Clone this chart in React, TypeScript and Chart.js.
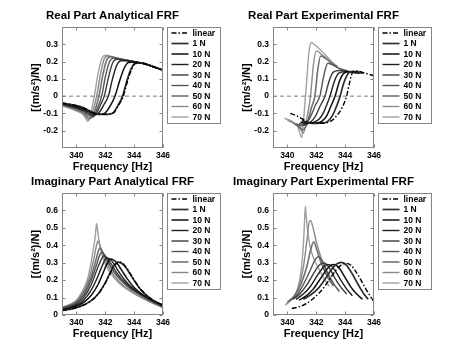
import React, { useEffect, useRef } from 'react';
import { Chart, registerables } from 'chart.js';

Chart.register(...registerables);

// ---------- shared labels / ticks ----------
const seriesNames = ['linear', '1 N', '10 N', '20 N', '30 N', '40 N', '50 N', '60 N', '70 N'];
const seriesColors = ['#000000', '#2e2e2e', '#0d0d0d', '#1f1f1f', '#3c3c3c', '#555555', '#707070', '#8a8a8a', '#a0a0a0'];
const seriesWidths = [1.4, 1.7, 1.5, 1.4, 1.4, 1.4, 1.6, 1.4, 1.4];
const xTicks = [340, 342, 344, 346];
const xTickLabels = ['340', '342', '344', '346'];
const realTicks = [-0.2, -0.1, 0, 0.1, 0.2, 0.3];
const realTickLabels = ['-0.2', '-0.1', '0', '0.1', '0.2', '0.3'];
const imagTicks = [0, 0.1, 0.2, 0.3, 0.4, 0.5, 0.6];
const imagTickLabels = ['0', '0.1', '0.2', '0.3', '0.4', '0.5', '0.6'];
const zeroLineFreq = [339, 346];
const zeroLineVal = [0, 0];

// ---------- Real part, analytical ----------
const reAnaFreq = [
  [339, 340, 340.5, 341, 341.3, 341.7, 342.2, 342.6, 342.9, 343.25, 343.5, 343.8, 344.1, 344.5, 345, 345.5, 346],
  [339, 340, 340.5, 341, 341.3, 341.7, 342.2, 342.55, 342.85, 343.2, 343.45, 343.75, 344.05, 344.5, 345, 345.5, 346],
  [339, 340, 340.5, 341, 341.3, 341.7, 342.0, 342.3, 342.67, 343.0, 343.3, 343.6, 344, 344.5, 345, 345.5, 346],
  [339, 340, 340.5, 341, 341.3, 341.6, 341.9, 342.21, 342.5, 342.8, 343.1, 343.5, 344, 344.5, 345, 345.5, 346],
  [339, 340, 340.5, 341, 341.2, 341.45, 341.7, 341.93, 342.2, 342.5, 342.8, 343.2, 344, 344.5, 345, 345.5, 346],
  [339, 340, 340.5, 341, 341.15, 341.4, 341.75, 342.0, 342.3, 342.6, 343.0, 344, 344.5, 345, 345.5, 346],
  [339, 340, 340.5, 340.95, 341.2, 341.56, 341.8, 342.1, 342.4, 342.8, 343.5, 344, 344.5, 345, 345.5, 346],
  [339, 340, 340.5, 340.85, 341.05, 341.4, 341.65, 341.95, 342.2, 342.6, 343.3, 344, 344.5, 345, 345.5, 346],
  [339, 340, 340.5, 340.8, 340.95, 341.24, 341.5, 341.8, 342.05, 342.5, 343.2, 344, 344.5, 345, 345.5, 346],
];
const reAnaVal = [
  [-0.040, -0.055, -0.068, -0.088, -0.100, -0.105, -0.105, -0.095, -0.055, 0.000, 0.075, 0.150, 0.190, 0.192, 0.180, 0.165, 0.150],
  [-0.040, -0.055, -0.068, -0.089, -0.101, -0.106, -0.105, -0.096, -0.058, 0.000, 0.075, 0.150, 0.190, 0.193, 0.180, 0.165, 0.150],
  [-0.042, -0.060, -0.073, -0.093, -0.103, -0.105, -0.096, -0.062, 0.000, 0.090, 0.160, 0.195, 0.198, 0.192, 0.180, 0.165, 0.150],
  [-0.044, -0.064, -0.078, -0.099, -0.108, -0.092, -0.050, 0.000, 0.100, 0.180, 0.205, 0.205, 0.198, 0.191, 0.180, 0.165, 0.150],
  [-0.046, -0.068, -0.084, -0.108, -0.115, -0.090, -0.045, 0.000, 0.100, 0.190, 0.213, 0.210, 0.199, 0.191, 0.180, 0.165, 0.150],
  [-0.048, -0.072, -0.090, -0.116, -0.121, -0.080, 0.000, 0.110, 0.200, 0.220, 0.215, 0.200, 0.191, 0.180, 0.165, 0.150],
  [-0.050, -0.076, -0.096, -0.128, -0.100, 0.000, 0.110, 0.210, 0.228, 0.220, 0.207, 0.200, 0.191, 0.180, 0.165, 0.150],
  [-0.052, -0.080, -0.102, -0.136, -0.110, 0.000, 0.120, 0.220, 0.232, 0.224, 0.210, 0.200, 0.191, 0.180, 0.165, 0.150],
  [-0.055, -0.086, -0.110, -0.145, -0.120, 0.000, 0.130, 0.225, 0.237, 0.226, 0.212, 0.200, 0.191, 0.180, 0.165, 0.150],
];

// ---------- Real part, experimental ----------
const reExpFreq = [
  [340.2, 340.6, 341.0, 341.4, 342.0, 342.6, 343.0, 343.4, 343.8, 344.1, 344.3, 344.5, 344.8, 345.3, 346],
  [341.0, 341.5, 342.0, 342.6, 343.0, 343.3, 343.65, 343.9, 344.2, 344.5, 344.9, 345.3],
  [341.0, 341.5, 342.0, 342.4, 342.75, 343.0, 343.3, 343.6, 343.9, 344.3, 344.8, 345.2],
  [340.9, 341.3, 341.8, 342.2, 342.5, 342.75, 342.95, 343.25, 343.55, 344.0, 344.5, 345.0],
  [340.8, 341.2, 341.6, 341.95, 342.25, 342.6, 342.9, 343.2, 343.6, 344.2, 344.8],
  [340.6, 341.0, 341.3, 341.65, 341.95, 342.25, 342.5, 342.8, 343.1, 343.6, 344.2],
  [340.4, 340.8, 341.1, 341.4, 341.65, 341.9, 342.1, 342.3, 342.7, 343.2, 343.5],
  [340.0, 340.5, 340.9, 341.1, 341.3, 341.6, 341.8, 342.0, 342.5, 343.0, 343.35],
  [339.8, 340.3, 340.7, 341.0, 341.1, 341.3, 341.5, 341.65, 342.0, 342.5, 343.0, 343.25],
];
const reExpVal = [
  [-0.100, -0.112, -0.130, -0.148, -0.155, -0.155, -0.145, -0.115, -0.065, 0.000, 0.075, 0.135, 0.146, 0.135, 0.118],
  [-0.140, -0.155, -0.158, -0.154, -0.128, -0.080, 0.000, 0.075, 0.130, 0.143, 0.140, 0.134],
  [-0.145, -0.156, -0.156, -0.145, -0.110, -0.060, 0.000, 0.085, 0.132, 0.142, 0.138, 0.133],
  [-0.150, -0.158, -0.152, -0.132, -0.095, -0.045, 0.000, 0.085, 0.132, 0.142, 0.138, 0.132],
  [-0.158, -0.165, -0.150, -0.115, -0.060, 0.000, 0.090, 0.140, 0.148, 0.142, 0.134],
  [-0.160, -0.172, -0.160, -0.110, -0.050, 0.000, 0.110, 0.190, 0.182, 0.160, 0.145],
  [-0.155, -0.175, -0.195, -0.150, -0.070, 0.000, 0.150, 0.232, 0.215, 0.185, 0.170],
  [-0.140, -0.160, -0.190, -0.215, -0.150, 0.000, 0.180, 0.262, 0.232, 0.195, 0.170],
  [-0.128, -0.145, -0.175, -0.240, -0.160, 0.050, 0.260, 0.310, 0.290, 0.250, 0.205, 0.185],
];

// ---------- Imaginary part, analytical ----------
const imAnaFreq = [
  [339, 339.5, 340, 340.5, 341, 341.5, 342, 342.3, 342.6, 342.95, 343.3, 343.7, 344.1, 344.5, 345, 345.5, 346],
  [339, 339.5, 340, 340.5, 341, 341.5, 342, 342.3, 342.6, 342.9, 343.3, 343.7, 344.1, 344.5, 345, 345.5, 346],
  [339, 339.5, 340, 340.5, 341, 341.5, 341.8, 342.1, 342.4, 342.7, 343.1, 343.5, 344, 344.5, 345, 345.5, 346],
  [339, 339.5, 340, 340.5, 341, 341.4, 341.8, 342.1, 342.4, 342.7, 343.0, 343.4, 343.8, 344.3, 344.8, 345.4, 346],
  [339, 339.5, 340, 340.5, 341, 341.4, 341.7, 341.9, 342.1, 342.4, 342.7, 343.1, 343.5, 344, 344.5, 345.2, 346],
  [339, 339.5, 340, 340.5, 341, 341.4, 341.6, 341.75, 341.95, 342.2, 342.5, 342.9, 343.3, 343.8, 344.4, 345.0, 346],
  [339, 339.5, 340, 340.5, 341, 341.3, 341.5, 341.62, 341.8, 342.1, 342.4, 342.8, 343.2, 343.7, 344.3, 345.0, 346],
  [339, 339.5, 340, 340.5, 340.9, 341.2, 341.4, 341.5, 341.65, 341.9, 342.2, 342.6, 343.0, 343.5, 344.2, 345.0, 346],
  [339, 339.5, 340, 340.5, 340.8, 341.1, 341.3, 341.4, 341.5, 341.7, 342.0, 342.5, 343.0, 343.5, 344.2, 345.0, 346],
];
const imAnaVal = [
  [0.026, 0.032, 0.042, 0.057, 0.080, 0.119, 0.182, 0.232, 0.280, 0.305, 0.289, 0.242, 0.188, 0.143, 0.103, 0.076, 0.057],
  [0.026, 0.032, 0.042, 0.058, 0.081, 0.121, 0.186, 0.236, 0.283, 0.303, 0.285, 0.238, 0.185, 0.141, 0.102, 0.075, 0.056],
  [0.029, 0.037, 0.050, 0.072, 0.110, 0.175, 0.232, 0.290, 0.322, 0.308, 0.262, 0.210, 0.158, 0.122, 0.095, 0.073, 0.055],
  [0.032, 0.042, 0.057, 0.085, 0.140, 0.205, 0.285, 0.328, 0.315, 0.280, 0.240, 0.195, 0.160, 0.128, 0.104, 0.080, 0.052],
  [0.036, 0.047, 0.064, 0.100, 0.170, 0.255, 0.315, 0.340, 0.330, 0.295, 0.255, 0.210, 0.175, 0.142, 0.117, 0.090, 0.050],
  [0.039, 0.051, 0.070, 0.113, 0.195, 0.290, 0.340, 0.360, 0.345, 0.305, 0.262, 0.220, 0.186, 0.152, 0.121, 0.090, 0.048],
  [0.041, 0.054, 0.075, 0.125, 0.215, 0.300, 0.360, 0.385, 0.365, 0.315, 0.270, 0.225, 0.188, 0.152, 0.120, 0.085, 0.046],
  [0.043, 0.057, 0.080, 0.138, 0.215, 0.320, 0.400, 0.425, 0.395, 0.335, 0.280, 0.228, 0.188, 0.152, 0.115, 0.080, 0.044],
  [0.045, 0.060, 0.085, 0.152, 0.215, 0.340, 0.450, 0.525, 0.460, 0.370, 0.292, 0.225, 0.180, 0.148, 0.112, 0.078, 0.042],
];

// ---------- Imaginary part, experimental ----------
const imExpFreq = [
  [340.3, 340.8, 341.3, 341.8, 342.3, 342.8, 343.3, 343.7, 344.1, 344.4, 344.7, 345.1, 345.5, 346.0],
  [341.1, 341.6, 342.1, 342.6, 343.0, 343.4, 343.75, 344.1, 344.5, 344.9, 345.3, 345.6],
  [340.8, 341.3, 341.8, 342.3, 342.7, 343.0, 343.25, 343.6, 344.0, 344.4, 344.8, 345.2],
  [340.6, 341.1, 341.6, 342.1, 342.5, 342.75, 342.95, 343.3, 343.7, 344.1, 344.5],
  [340.4, 340.9, 341.4, 341.9, 342.25, 342.55, 342.9, 343.3, 343.7, 344.1],
  [340.2, 340.7, 341.2, 341.6, 341.9, 342.15, 342.45, 342.8, 343.2, 343.6],
  [340.0, 340.5, 341.0, 341.35, 341.6, 341.82, 342.05, 342.4, 342.8, 343.2],
  [339.9, 340.4, 340.8, 341.1, 341.35, 341.5, 341.6, 341.75, 342.0, 342.4, 342.8, 343.1],
  [339.85, 340.3, 340.7, 341.0, 341.15, 341.24, 341.35, 341.55, 341.85, 342.2, 342.6, 342.9],
];
const imExpVal = [
  [0.037, 0.047, 0.065, 0.095, 0.135, 0.190, 0.250, 0.285, 0.296, 0.285, 0.255, 0.200, 0.140, 0.075],
  [0.090, 0.115, 0.150, 0.205, 0.255, 0.292, 0.302, 0.285, 0.235, 0.175, 0.120, 0.090],
  [0.085, 0.110, 0.150, 0.210, 0.260, 0.285, 0.290, 0.268, 0.215, 0.160, 0.120, 0.090],
  [0.090, 0.120, 0.165, 0.230, 0.275, 0.290, 0.288, 0.255, 0.200, 0.150, 0.110],
  [0.090, 0.125, 0.180, 0.250, 0.290, 0.298, 0.270, 0.210, 0.160, 0.120],
  [0.085, 0.120, 0.190, 0.260, 0.315, 0.335, 0.305, 0.240, 0.180, 0.135],
  [0.075, 0.110, 0.190, 0.280, 0.370, 0.420, 0.370, 0.285, 0.215, 0.165],
  [0.062, 0.100, 0.165, 0.270, 0.430, 0.530, 0.543, 0.510, 0.420, 0.310, 0.225, 0.180],
  [0.056, 0.090, 0.150, 0.290, 0.470, 0.624, 0.520, 0.400, 0.320, 0.260, 0.200, 0.165],
];

// ---------- styling ----------
const FONT = '"Liberation Sans", Arial, Helvetica, sans-serif';
const FRAME = '#858585';
const LINEAR_DASH = [5, 2, 1.5, 2];
const CANVAS_W = 474;
const CANVAS_H = 355;
const Y_AXIS_W = 62;
const X_AXIS_H = 29;

type Area = { l: number; t: number; r: number; b: number };
type PanelProps = {
  title: string;
  freq: number[][];
  vals: number[][];
  yMin: number;
  yMax: number;
  yTicks: number[];
  yTickLabels: string[];
  zero: boolean;
  area: Area;
};

function makeDecor(title: string, yTicks: number[]) {
  return {
    id: 'decor' + title.replace(/\s/g, ''),
    afterDraw(chart: any) {
      const { ctx, chartArea: a, scales } = chart;
      ctx.save();
      ctx.setLineDash([]);
      ctx.strokeStyle = FRAME;
      ctx.lineWidth = 1;
      const L = Math.round(a.left) + 0.5;
      const T = Math.round(a.top) + 0.5;
      const R = Math.round(a.right) - 0.5;
      const B = Math.round(a.bottom) - 0.5;
      ctx.strokeRect(L, T, R - L, B - T);
      ctx.beginPath();
      for (const v of xTicks) {
        const x = Math.round(scales.x.getPixelForValue(v)) + 0.5;
        ctx.moveTo(x, B); ctx.lineTo(x, B - 3);
        ctx.moveTo(x, T); ctx.lineTo(x, T + 3);
      }
      for (const v of yTicks) {
        const y = Math.round(scales.y.getPixelForValue(v)) + 0.5;
        ctx.moveTo(L, y); ctx.lineTo(L + 3, y);
        ctx.moveTo(R, y); ctx.lineTo(R - 3, y);
      }
      ctx.stroke();

      // title
      ctx.fillStyle = '#000';
      ctx.font = `bold 11.5px ${FONT}`;
      ctx.textAlign = 'center';
      ctx.textBaseline = 'middle';
      ctx.fillText(title, (a.left + a.right) / 2, a.top - 11.5);

      // legend
      const bx = Math.round(a.right) + 4.5;
      const by = Math.round(a.top) + 0.5;
      const bw = 53;
      const bh = 96;
      ctx.fillStyle = '#fff';
      ctx.fillRect(bx, by, bw, bh);
      ctx.strokeStyle = FRAME;
      ctx.lineWidth = 1;
      ctx.strokeRect(bx, by, bw, bh);
      ctx.font = `bold 8.5px ${FONT}`;
      ctx.textAlign = 'left';
      ctx.textBaseline = 'middle';
      seriesNames.forEach((name, i) => {
        const y = by + 5.5 + i * 10.5;
        ctx.beginPath();
        ctx.setLineDash(i === 0 ? LINEAR_DASH : []);
        ctx.strokeStyle = seriesColors[i];
        ctx.lineWidth = seriesWidths[i];
        ctx.moveTo(bx + 4, y);
        ctx.lineTo(bx + 21, y);
        ctx.stroke();
        ctx.setLineDash([]);
        ctx.fillStyle = '#000';
        ctx.fillText(name, bx + 25, y + 0.5);
      });
      ctx.restore();
    },
  };
}

function Panel(p: PanelProps) {
  const ref = useRef<HTMLCanvasElement>(null);
  useEffect(() => {
    const datasets: any[] = seriesNames.map((name, i) => ({
      label: name,
      data: p.freq[i].map((f, j) => ({ x: f, y: p.vals[i][j] })),
      borderColor: seriesColors[i],
      borderWidth: seriesWidths[i],
      borderDash: i === 0 ? LINEAR_DASH : [],
      pointRadius: 0,
      cubicInterpolationMode: 'monotone',
      fill: false,
    }));
    if (p.zero) {
      datasets.push({
        label: 'zero',
        data: zeroLineFreq.map((f, j) => ({ x: f, y: zeroLineVal[j] })),
        borderColor: '#7a7a7a',
        borderWidth: 1,
        borderDash: [4, 3],
        pointRadius: 0,
        fill: false,
      });
    }
    const tickFont = { family: FONT, size: 8.5, weight: 'bold' as const };
    const titleFont = { family: FONT, size: 11, weight: 'bold' as const };
    const chart = new Chart(ref.current as HTMLCanvasElement, {
      type: 'line',
      data: { datasets },
      plugins: [makeDecor(p.title, p.yTicks)],
      options: {
        animation: false,
        responsive: false,
        maintainAspectRatio: false,
        layout: {
          padding: {
            left: p.area.l - Y_AXIS_W,
            right: CANVAS_W - p.area.r,
            top: p.area.t,
            bottom: CANVAS_H - p.area.b - X_AXIS_H,
          },
        },
        plugins: {
          legend: { display: false },
          title: { display: false },
          tooltip: { enabled: false },
        },
        scales: {
          x: {
            type: 'linear',
            min: 339,
            max: 346,
            afterFit: (s: any) => { s.height = X_AXIS_H; },
            afterBuildTicks: (s: any) => { s.ticks = xTicks.map((v) => ({ value: v })); },
            grid: { display: false, drawTicks: false },
            border: { display: false },
            ticks: {
              autoSkip: false,
              maxRotation: 0,
              padding: 3,
              color: '#000',
              font: tickFont,
              callback: (v: any) => xTickLabels[xTicks.indexOf(Number(v))] ?? '',
            },
            title: {
              display: true,
              text: 'Frequency [Hz]',
              color: '#000',
              font: titleFont,
              padding: { top: 0, bottom: 3.4 },
            },
          },
          y: {
            type: 'linear',
            min: p.yMin,
            max: p.yMax,
            afterFit: (s: any) => { s.width = Y_AXIS_W; },
            afterBuildTicks: (s: any) => { s.ticks = p.yTicks.map((v) => ({ value: v })); },
            grid: { display: false, drawTicks: false },
            border: { display: false },
            ticks: {
              autoSkip: false,
              padding: 4,
              color: '#000',
              font: tickFont,
              callback: (v: any) => p.yTickLabels[p.yTicks.indexOf(Number(v))] ?? '',
            },
            title: {
              display: true,
              text: '[(m/s²)/N]',
              color: '#000',
              font: titleFont,
              padding: { top: 29, bottom: 0 },
            },
          },
        },
      } as any,
    });
    return () => chart.destroy();
  }, []);
  return (
    <canvas
      ref={ref}
      width={CANVAS_W}
      height={CANVAS_H}
      style={{ position: 'absolute', left: 0, top: 0, width: CANVAS_W, height: CANVAS_H }}
    />
  );
}

export default function App() {
  return (
    <div style={{ position: 'absolute', left: 0, top: 0, width: CANVAS_W, height: CANVAS_H, background: '#fff', overflow: 'hidden' }}>
      <Panel
        title="Real Part Analytical FRF"
        freq={reAnaFreq} vals={reAnaVal}
        yMin={-0.3} yMax={0.4} yTicks={realTicks} yTickLabels={realTickLabels} zero
        area={{ l: 62, t: 27, r: 163, b: 148 }}
      />
      <Panel
        title="Real Part Experimental FRF"
        freq={reExpFreq} vals={reExpVal}
        yMin={-0.3} yMax={0.4} yTicks={realTicks} yTickLabels={realTickLabels} zero
        area={{ l: 273, t: 27, r: 374, b: 148 }}
      />
      <Panel
        title="Imaginary Part Analytical FRF"
        freq={imAnaFreq} vals={imAnaVal}
        yMin={0} yMax={0.7} yTicks={imagTicks} yTickLabels={imagTickLabels} zero={false}
        area={{ l: 62, t: 193, r: 163, b: 315 }}
      />
      <Panel
        title="Imaginary Part Experimental FRF"
        freq={imExpFreq} vals={imExpVal}
        yMin={0} yMax={0.7} yTicks={imagTicks} yTickLabels={imagTickLabels} zero={false}
        area={{ l: 273, t: 193, r: 374, b: 315 }}
      />
    </div>
  );
}
